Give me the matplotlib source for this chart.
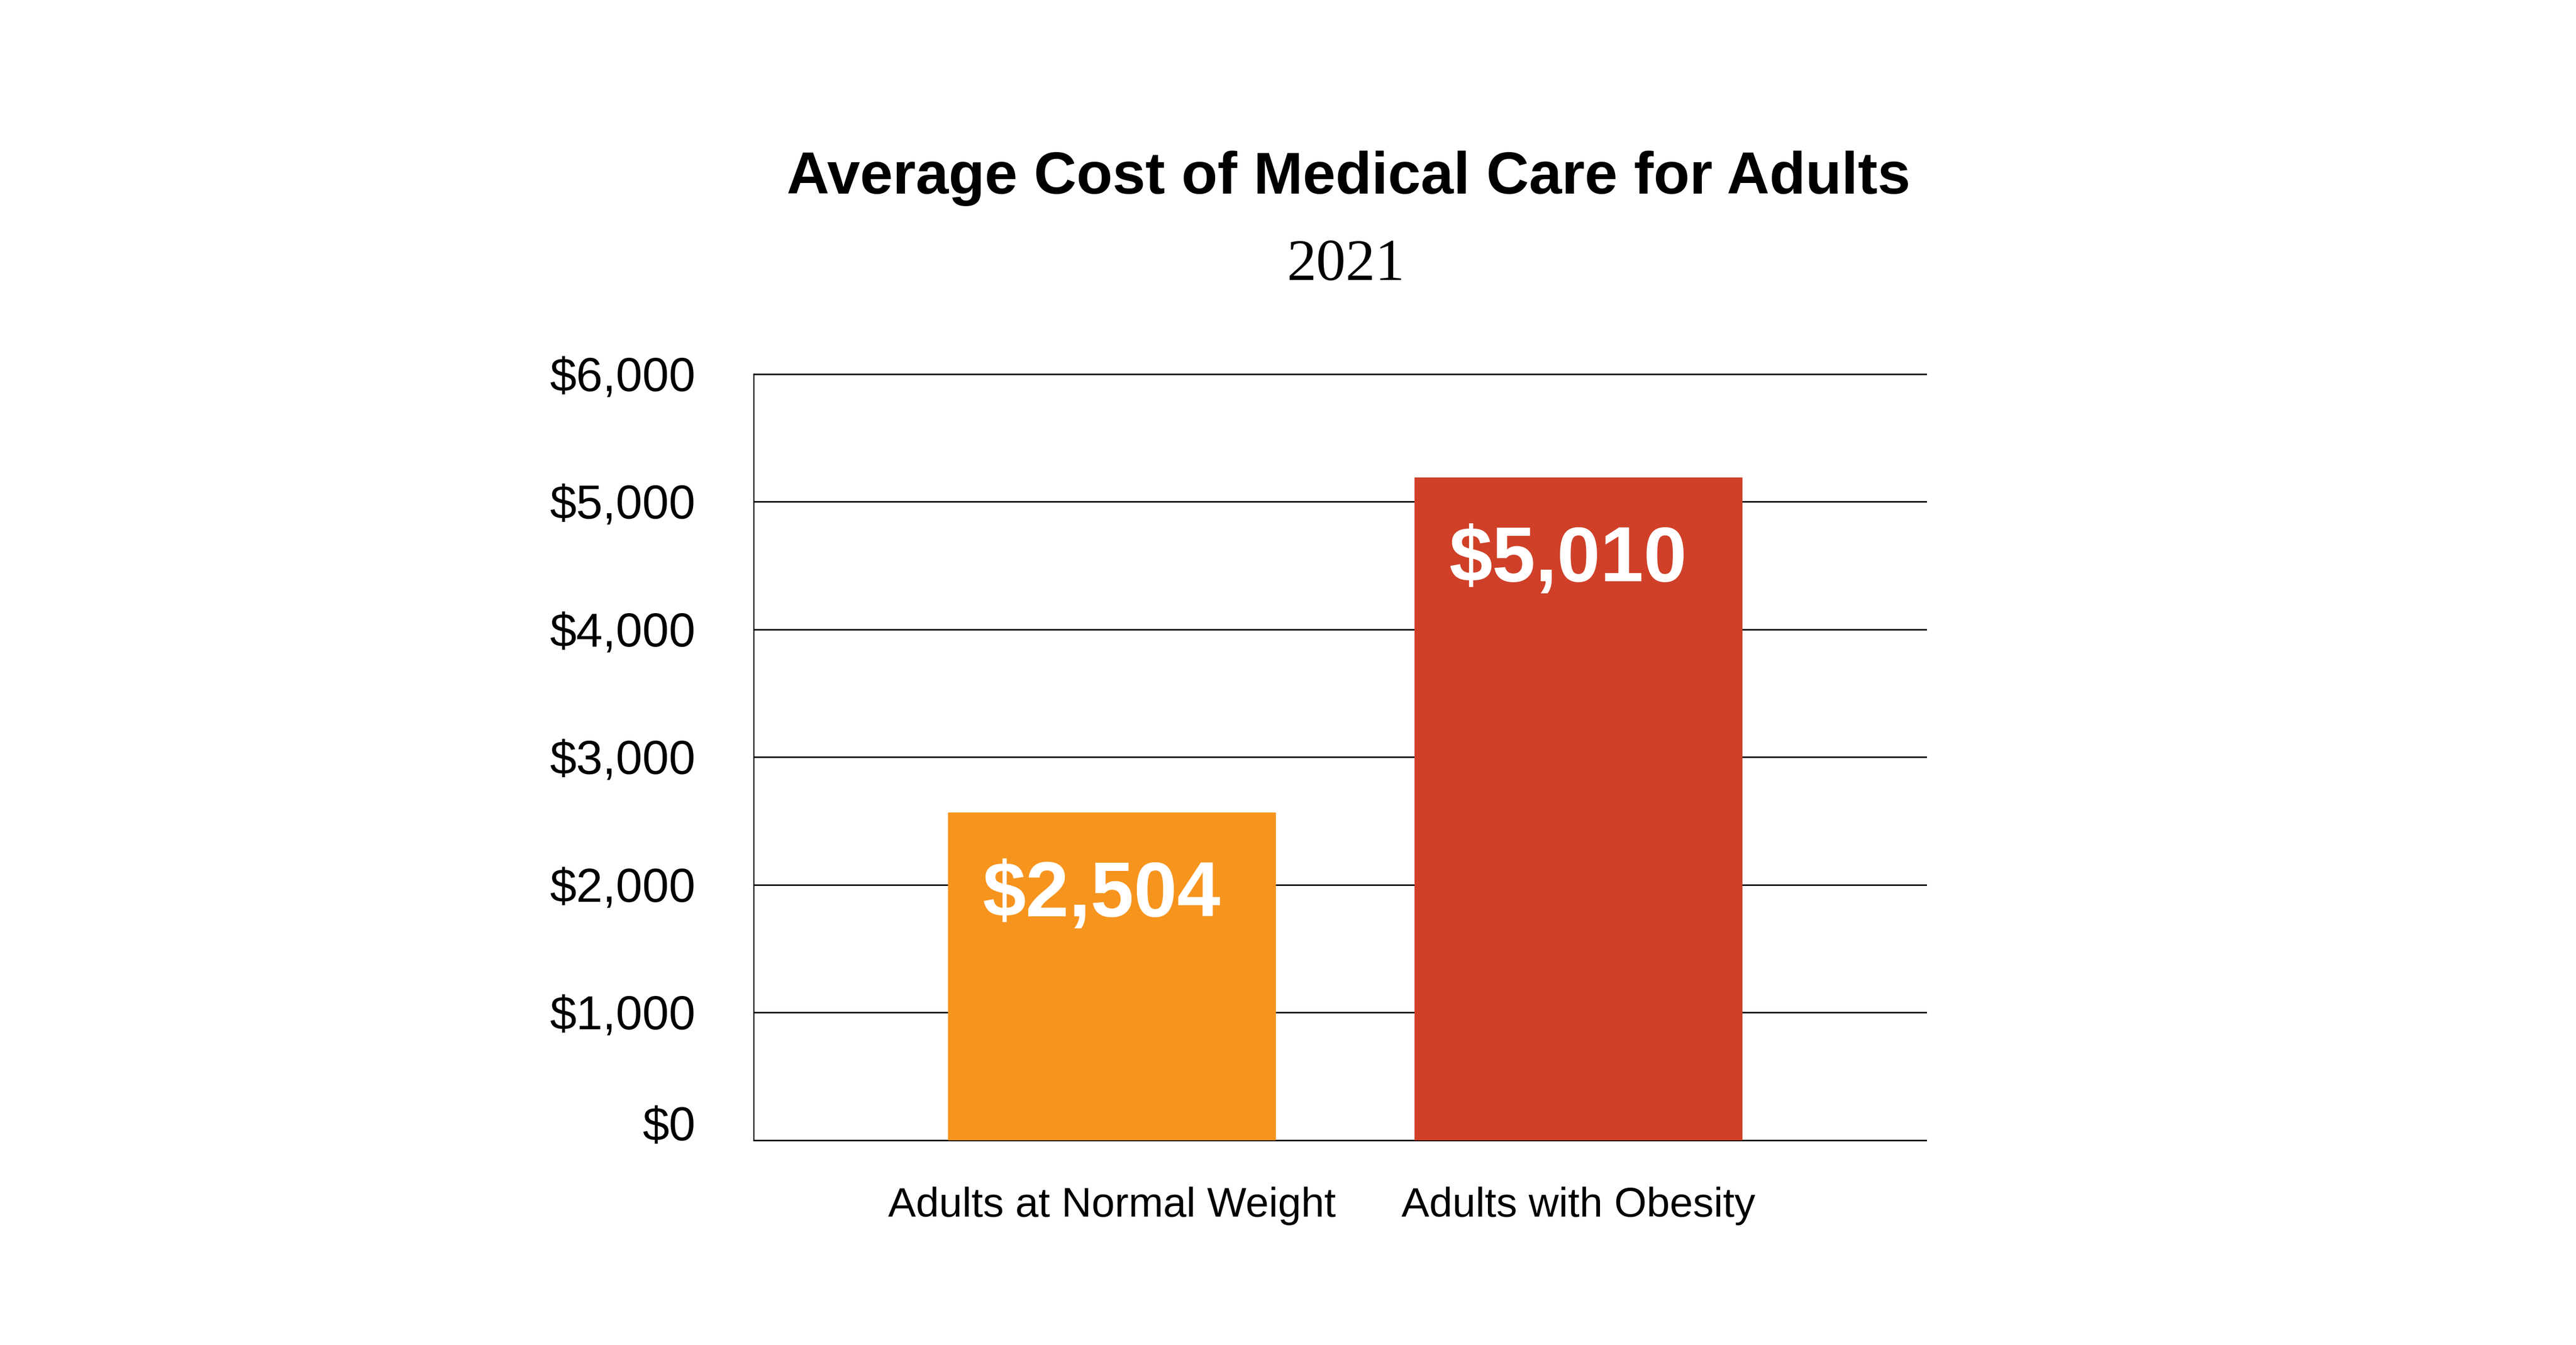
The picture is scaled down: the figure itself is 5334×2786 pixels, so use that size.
import matplotlib.pyplot as plt
from matplotlib.ticker import FuncFormatter

# data (bar heights as drawn, labels as printed)
groups = ['Adults at Normal Weight', 'Adults with Obesity']
bar_heights = [2565, 5190]
bar_labels = ['$2,504', '$5,010']
bar_colors = ['#F7941E', '#D04028']
y_ticks = [0, 1000, 2000, 3000, 4000, 5000, 6000]

plt.rcParams['font.family'] = ['Liberation Sans', 'DejaVu Sans']

fig = plt.figure(figsize=(53.34, 27.86), dpi=100)
ax = fig.add_axes([0.2927, 0.1523, 0.455, 0.5697])

x = list(range(len(groups)))
ax.bar(x, bar_heights, width=0.703, color=bar_colors, zorder=3)

ax.set_xlim(-0.767, 1.745)
ax.set_ylim(0, 6000)
ax.set_yticks(y_ticks)
ax.yaxis.set_major_formatter(FuncFormatter(lambda v, p: '${:,.0f}'.format(v)))
ax.set_xticks(x)
ax.set_xticklabels(groups)

ax.tick_params(axis='y', length=0, pad=87, labelsize=71)
ax.tick_params(axis='x', length=0, pad=69, labelsize=62)

# $0 sits on the baseline
ylabs = ax.get_yticklabels()
ylabs[0].set_verticalalignment('baseline')

ax.yaxis.grid(True, color='black', linewidth=2.3, zorder=1)
for gl in ax.get_ygridlines():
    gl.set_clip_on(False)
ax.set_axisbelow(True)

for s in ['top', 'right', 'bottom']:
    ax.spines[s].set_visible(False)
ax.spines['left'].set_linewidth(1.7)

# value labels inside the bars
for xi, h, lab in zip(x, bar_heights, bar_labels):
    ax.annotate(lab, (xi - 0.022, h), xytext=(0, -155), textcoords='offset points',
                ha='center', va='baseline', color='white', fontsize=116,
                fontweight='bold', zorder=4)

fig.text(0.5235, 0.8562, 'Average Cost of Medical Care for Adults', ha='center',
         va='baseline', fontsize=88, fontweight='bold')
fig.text(0.5225, 0.7918, '2021', ha='center', va='baseline', fontsize=88,
         family=['Liberation Serif', 'DejaVu Serif'])

fig.savefig('out.png', dpi=100, facecolor='white')
